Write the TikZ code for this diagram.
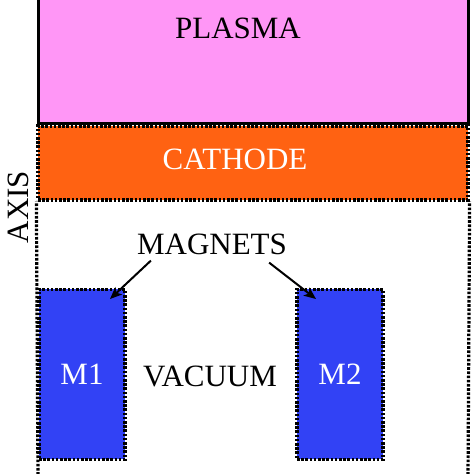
\documentclass[tikz,border=0pt]{standalone}
\usepackage{fontspec}
\setmainfont{Liberation Serif}
\usetikzlibrary{arrows.meta}
\definecolor{plasmapink}{RGB}{255,150,246}
\definecolor{cathodeorange}{RGB}{255,98,18}
\definecolor{magnetblue}{RGB}{50,66,245}
\tikzset{
  dotline/.style={line width=3.2pt, line cap=butt, dash pattern=on 2.6pt off 1.6pt},
  lbl/.style={font=\fontsize{31}{31}\selectfont, inner sep=0pt},
  magnet/.style={fill=magnetblue, dotline, minimum width=86pt, minimum height=170pt, inner sep=0pt, text=white, font=\fontsize{31}{31}\selectfont},
}
\begin{document}
\begin{tikzpicture}[x=1pt,y=1pt]
\useasboundingbox (0,0) rectangle (474,474);

% plasma and cathode
\node[draw, line width=3pt, fill=plasmapink, minimum width=430pt, minimum height=132pt, inner sep=0pt] (plasma) at (253,416) {};
\node[fill=cathodeorange, dotline, draw, minimum width=430pt, minimum height=74pt, inner sep=0pt] (cathode) at (253,311) {};

% vacuum region
\node[coordinate] (v1) at (38,-5) {};
\node[coordinate] (v2) at (468,-5) {};
\draw [dotline] (v1)--(cathode.south west);
\draw [dotline] (v2)--(cathode.south east);

% magnets
\node[magnet, draw] (m1) at (82,99.5) {M1};
\node[magnet, draw] (m2) at (340,99.5) {M2};

\node[lbl] (plasmatext) at (238,446) {PLASMA};
\node[lbl, text=white] (cathodetext) at (235,315) {CATHODE};
\node[lbl] (magnets) at (212,230) {MAGNETS};
\node[lbl] (vacuum) at (210,98) {VACUUM};
\node[lbl, rotate=90] (axis) at (18,267) {AXIS};

\node[coordinate] (a1) at (110,175) {};
\node[coordinate] (a2) at (316,175) {};
\draw [-{Stealth[length=12pt,width=10pt,inset=3pt]}, line width=2pt] (magnets.south west)++(14,-6) -- (a1);
\draw [-{Stealth[length=12pt,width=10pt,inset=3pt]}, line width=2pt] (magnets.south east)++(-18,-8) -- (a2);

\end{tikzpicture}
\end{document}
